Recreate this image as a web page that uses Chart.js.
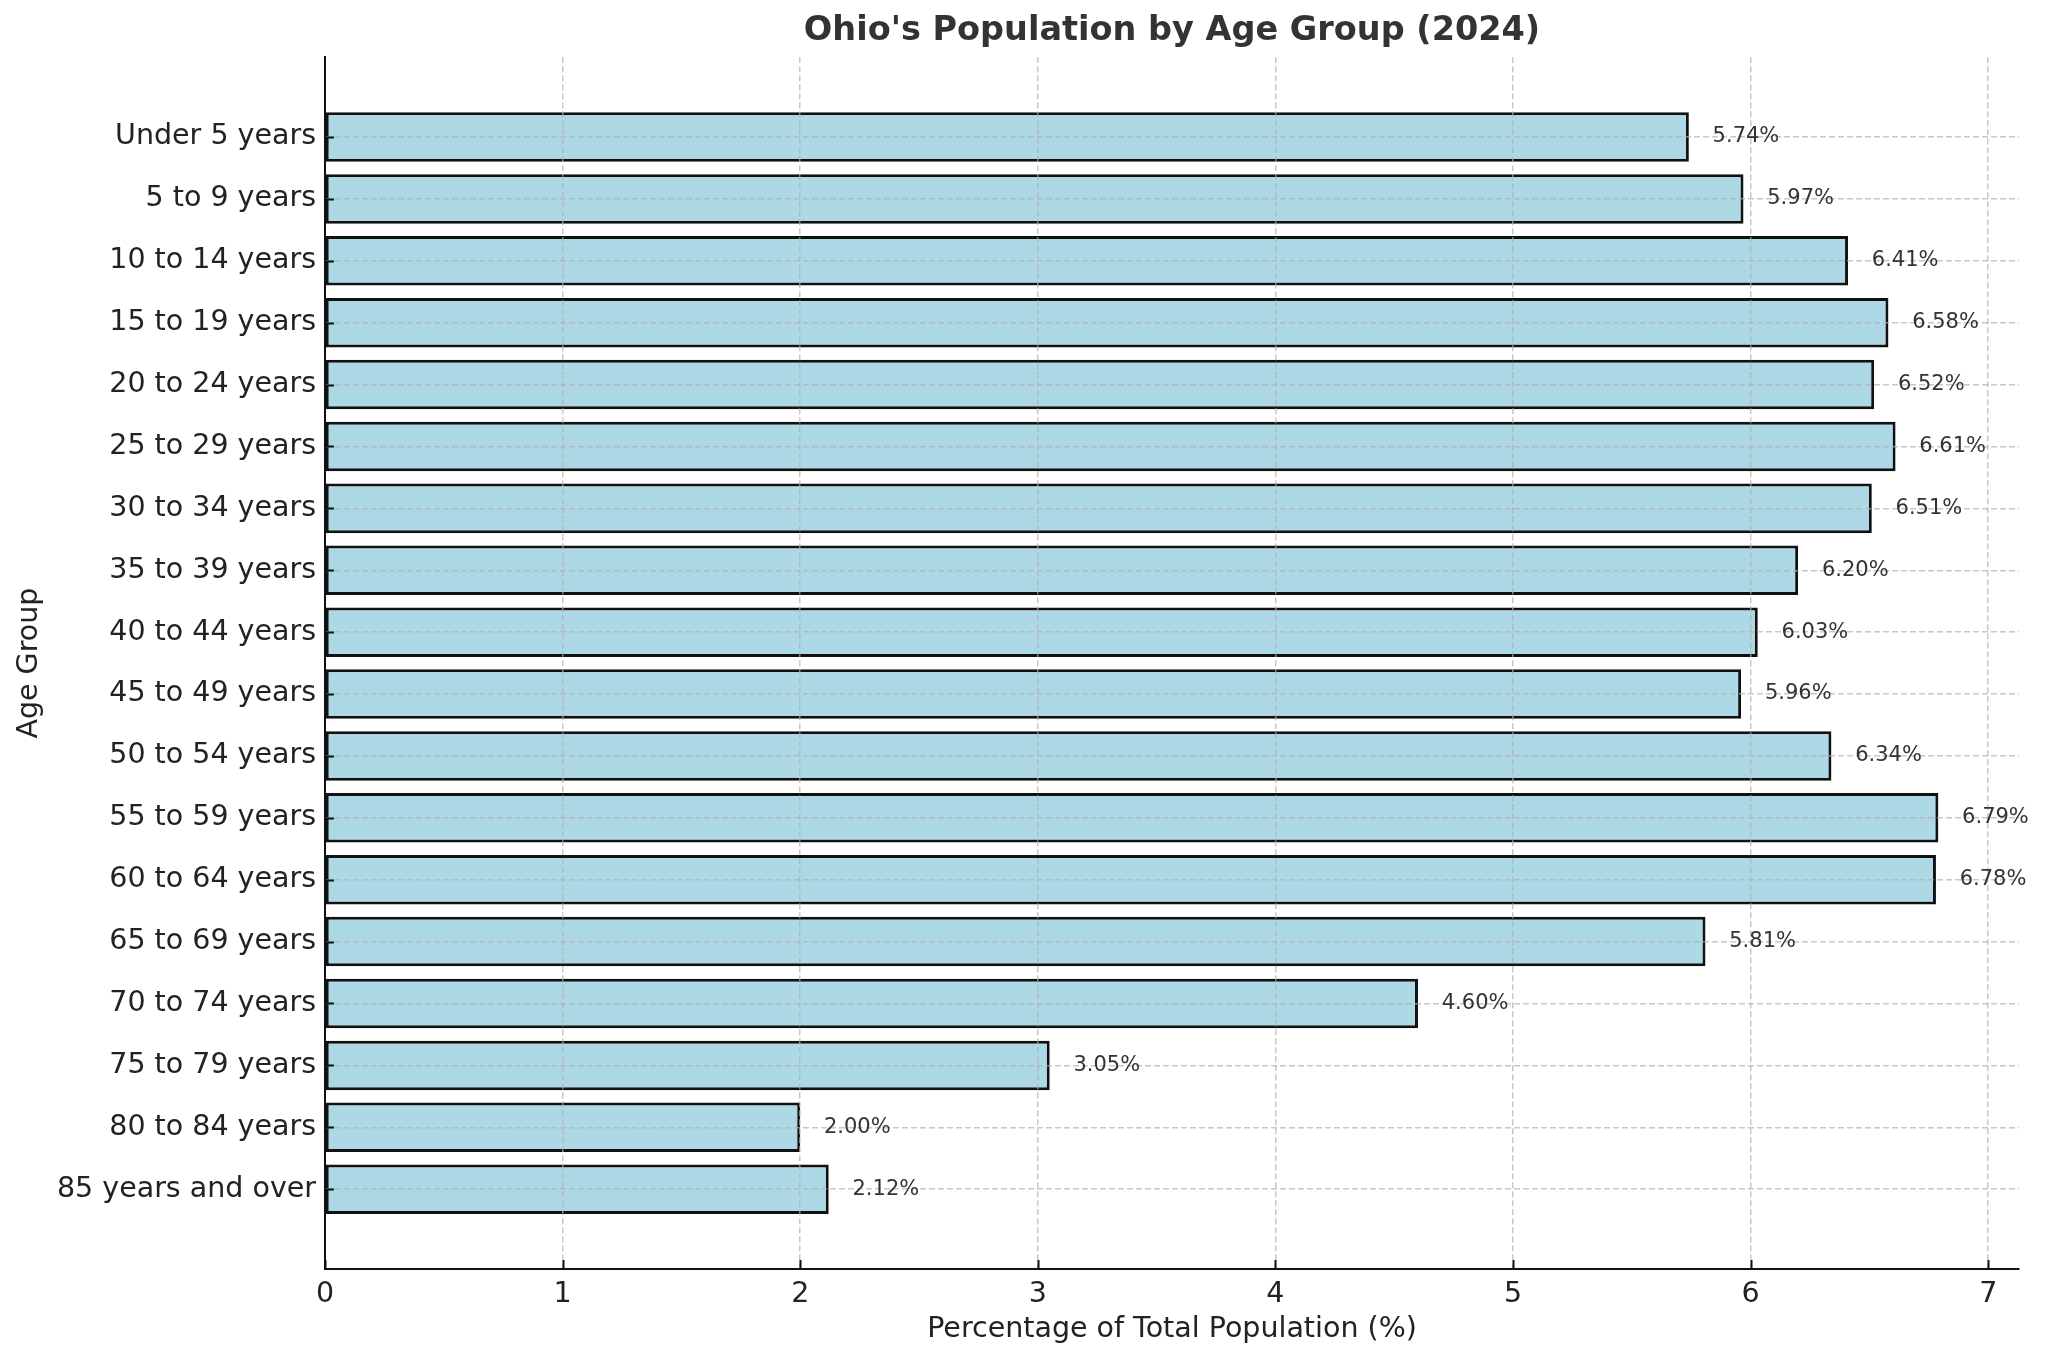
<!DOCTYPE html>
<html>
<head>
<meta charset="utf-8">
<script src="https://cdn.jsdelivr.net/npm/chart.js@4"></script>
<style>
  html, body { margin: 0; padding: 0; background: #fff; }
  #wrap { width: 2048px; height: 1362px; }
</style>
</head>
<body>
<div id="wrap"><canvas id="chart-age" width="2048" height="1362"></canvas></div>
<script>
// Age groups, top to bottom
const ageGroups = [
  'Under 5 years', '5 to 9 years', '10 to 14 years', '15 to 19 years',
  '20 to 24 years', '25 to 29 years', '30 to 34 years', '35 to 39 years',
  '40 to 44 years', '45 to 49 years', '50 to 54 years', '55 to 59 years',
  '60 to 64 years', '65 to 69 years', '70 to 74 years', '75 to 79 years',
  '80 to 84 years', '85 years and over'
];

// Share of total population (%)
const shares = [
  5.74, 5.97, 6.41, 6.58, 6.52, 6.61, 6.51, 6.20, 6.03,
  5.96, 6.34, 6.79, 6.78, 5.81, 4.60, 3.05, 2.00, 2.12
];

const xTicks = [0, 1, 2, 3, 4, 5, 6, 7];

const FONT = "'DejaVu Sans', sans-serif";
const COLORS = {
  bar: '#ADD8E6',
  edge: '#111111',
  grid: 'rgba(176, 176, 176, 0.7)',
  text: '#222222',
  label: '#333333'
};

// matplotlib-like limits: bars span -0.4..n-0.6, 5% margin each side
const n = ageGroups.length;
const yPad = (n - 1 + 0.8) * 0.05;
const xMax = Math.max(...shares) * 1.05;

// inward tick marks + value labels on top of everything
const overlay = {
  id: 'overlay',
  afterDraw(chart) {
    const { ctx, chartArea, scales: { x, y } } = chart;
    ctx.save();
    ctx.strokeStyle = COLORS.edge;
    ctx.lineWidth = 2;
    ctx.beginPath();
    for (const t of xTicks) {
      const px = Math.round(x.getPixelForValue(t)) + 0.5;
      ctx.moveTo(px, chartArea.bottom);
      ctx.lineTo(px, chartArea.bottom - 9);
    }
    ageGroups.forEach((_, i) => {
      const py = Math.round(y.getPixelForValue(i)) + 0.5;
      ctx.moveTo(chartArea.left, py);
      ctx.lineTo(chartArea.left + 9, py);
    });
    ctx.stroke();

    ctx.fillStyle = COLORS.label;
    ctx.font = `21px ${FONT}`;
    ctx.textAlign = 'left';
    ctx.textBaseline = 'middle';
    shares.forEach((v, i) => {
      ctx.fillText(v.toFixed(2) + '%', x.getPixelForValue(v + 0.1), y.getPixelForValue(i));
    });
    ctx.restore();
  }
};

new Chart(document.getElementById('chart-age'), {
  type: 'bar',
  data: {
    datasets: [{
      data: shares.map((v, i) => ({ x: v, y: i })),
      backgroundColor: COLORS.bar,
      borderColor: COLORS.edge,
      borderWidth: 3,
      borderSkipped: false,
      categoryPercentage: 1,
      barPercentage: 0.8
    }]
  },
  options: {
    indexAxis: 'y',
    responsive: false,
    devicePixelRatio: 1,
    animation: false,
    layout: { padding: { left: 0, right: 29, top: 0, bottom: 0 } },
    plugins: {
      legend: { display: false },
      tooltip: { enabled: false },
      title: {
        display: true,
        fullSize: false,
        text: "Ohio's Population by Age Group (2024)",
        color: '#333333',
        font: { family: FONT, size: 33.5, weight: 'bold' },
        padding: { top: 11, bottom: 6 }
      }
    },
    scales: {
      x: {
        type: 'linear',
        min: 0,
        max: xMax,
        afterBuildTicks: s => { s.ticks = xTicks.map(v => ({ value: v })); },
        afterFit: s => { s.height = 93; },
        ticks: {
          color: COLORS.text,
          font: { family: FONT, size: 28.5 },
          padding: 8,
          maxRotation: 0
        },
        grid: { color: COLORS.grid, lineWidth: 1.5, drawTicks: false, z: 1 },
        border: { display: true, color: COLORS.edge, width: 2, dash: [6, 3], z: 1 },
        title: {
          display: true,
          text: 'Percentage of Total Population (%)',
          color: COLORS.text,
          font: { family: FONT, size: 28.5 },
          padding: { top: 0, bottom: 15 }
        }
      },
      y: {
        type: 'linear',
        reverse: true,
        offset: false,
        min: -0.4 - yPad,
        max: n - 0.6 + yPad,
        afterBuildTicks: s => { s.ticks = ageGroups.map((_, i) => ({ value: i })); },
        afterFit: s => { s.width = 325; },
        ticks: {
          color: COLORS.text,
          font: { family: FONT, size: 28.5 },
          padding: 9,
          callback: v => ageGroups[v]
        },
        grid: { color: COLORS.grid, lineWidth: 1.5, drawTicks: false, offset: false, z: 1 },
        border: { display: true, color: COLORS.edge, width: 2, dash: [6, 3], z: 1 },
        title: {
          display: true,
          text: 'Age Group',
          color: COLORS.text,
          font: { family: FONT, size: 28.5 },
          padding: { top: 12, bottom: 0 }
        }
      }
    }
  },
  plugins: [overlay]
});
</script>
</body>
</html>
